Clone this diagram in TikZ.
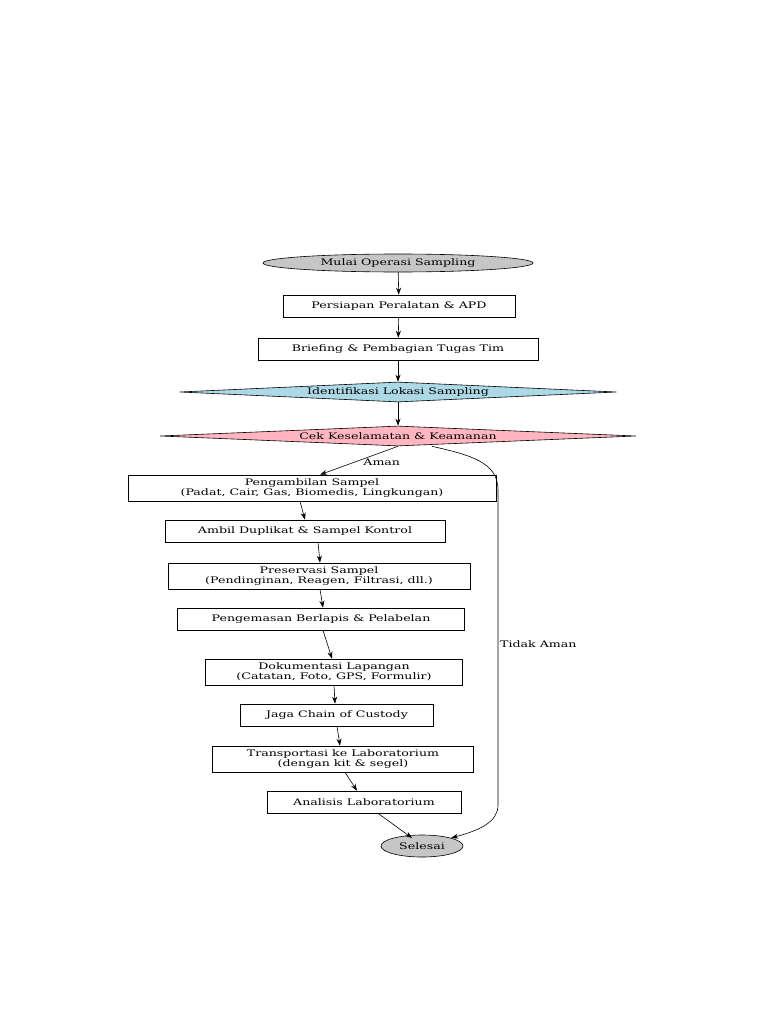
\documentclass[tikz,border=0pt]{standalone}
\usepackage{fontspec}
\setmainfont{DejaVu Serif}[FakeStretch=1.4]
\usetikzlibrary{shapes.geometric,arrows.meta}
\definecolor{lblue}{RGB}{173,216,230}
\definecolor{lpink}{RGB}{255,182,193}
\begin{document}
\begin{tikzpicture}[x=1pt,y=-1pt,
  every node/.style={font=\fontsize{9}{10}\selectfont,align=center,inner sep=0pt},
  box/.style={draw,semithick,fill=white,minimum height=22pt},
  box2/.style={draw,semithick,fill=white,minimum height=26pt,font=\fontsize{9}{8.5}\selectfont},
  term/.style={draw,semithick,ellipse,fill=gray!45},
  dia/.style={draw,semithick,diamond,aspect=22,inner sep=0pt},
  arr/.style={-{Stealth[length=7pt,width=5pt]},semithick}]
\useasboundingbox (0,0) rectangle (768,1024);
\node[term,minimum width=270pt,minimum height=18pt] (s) at (398,263) {Mulai Operasi Sampling};
\node[box,minimum width=232pt] (p) at (399,306) {Persiapan Peralatan \& APD};
\node[box,minimum width=280pt] (b) at (398,349) {Briefing \& Pembagian Tugas Tim};
\node[dia,fill=lblue,minimum width=437pt,minimum height=20pt] (i) at (398,392) {};
\node (it) at (398,392) {Identifikasi Lokasi Sampling};
\node[dia,fill=lpink,minimum width=476pt,minimum height=20pt] (c) at (398,436) {};
\node (ct) at (398,436) {Cek Keselamatan \& Keamanan};
\node[box2,minimum width=368pt] (n1) at (312,488) {Pengambilan Sampel\\(Padat, Cair, Gas, Biomedis, Lingkungan)};
\node[box,minimum width=280pt] (n2) at (305,531) {Ambil Duplikat \& Sampel Kontrol};
\node[box2,minimum width=302pt] (n3) at (319,576) {Preservasi Sampel\\(Pendinginan, Reagen, Filtrasi, dll.)};
\node[box,minimum width=287pt] (n4) at (321,619) {Pengemasan Berlapis \& Pelabelan};
\node[box2,minimum width=257pt] (n5) at (334,672) {Dokumentasi Lapangan\\(Catatan, Foto, GPS, Formulir)};
\node[box,minimum width=193pt] (n6) at (337,715) {Jaga Chain of Custody};
\node[box2,minimum width=261pt] (n7) at (343,759) {Transportasi ke Laboratorium\\(dengan kit \& segel)};
\node[box,minimum width=194pt] (n8) at (364,802) {Analisis Laboratorium};
\node[term,minimum width=82pt,minimum height=22pt] (e) at (422,846) {Selesai};
\draw[arr] (s) -- (p);
\draw[arr] (p) -- (b);
\draw[arr] (b) -- (i);
\draw[arr] (i) -- (c);
\draw[arr] (c.south) -- (n1.north east -| 320,476) node[pos=0.55,right=8pt] {Aman};
\draw[arr] (n1.south -| 300,500) -- (n2.north -| 305,520);
\draw[arr] (n2.south -| 318,542) -- (n3.north -| 320,563);
\draw[arr] (n3.south -| 320,589) -- (n4.north -| 323,608);
\draw[arr] (n4.south -| 323,630) -- (n5.north -| 332,659);
\draw[arr] (n5.south -| 334,686) -- (n6.north -| 335,704);
\draw[arr] (n6.south -| 337,726) -- (n7.north -| 340,746);
\draw[arr] (n7.south -| 345,772) -- (n8.north -| 357,791);
\draw[arr] (n8.south -| 378,813) -- (e.north west -| 412,835);
\draw[arr] (c.south -| 432,444) .. controls (470,455) and (498,462) .. (498,490) -- (498,805) .. controls (498,822) and (480,830) .. (e.north east);
\node[anchor=west] (ta) at (500,644) {Tidak Aman};
\end{tikzpicture}
\end{document}
